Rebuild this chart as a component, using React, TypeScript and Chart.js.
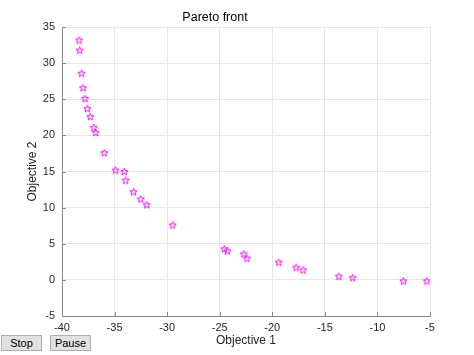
import React, { useEffect, useRef } from "react";
import { Chart, registerables } from "chart.js";

Chart.register(...registerables);

const objective1: number[] = [-38.38, -38.32, -38.13, -38.0, -37.81, -37.59, -37.31, -36.98, -36.79, -35.98, -34.9, -34.07, -33.94, -33.2, -32.5, -31.94, -29.47, -24.56, -24.27, -22.71, -22.4, -19.38, -17.73, -17.07, -13.67, -12.35, -7.53, -5.3];
const objective2: number[] = [33.2, 31.8, 28.6, 26.6, 25.1, 23.7, 22.6, 21.1, 20.4, 17.6, 15.2, 15.0, 13.8, 12.2, 11.2, 10.4, 7.6, 4.3, 4.0, 3.6, 3.0, 2.45, 1.75, 1.38, 0.51, 0.32, -0.14, -0.14];
const xTicks: number[] = [-40, -35, -30, -25, -20, -15, -10, -5];
const yTicks: number[] = [-5, 0, 5, 10, 15, 20, 25, 30, 35];

const FONT = "'Liberation Sans', Arial, Helvetica, sans-serif";
const TEXT = "#262626";
const GRID = "#e6e6e6";
const AXIS = "#8a8a8a";

function makePentagram(): HTMLCanvasElement {
  const c = document.createElement("canvas");
  const s = 9;
  c.width = s;
  c.height = s;
  const ctx = c.getContext("2d")!;
  const cx = s / 2, cy = s / 2 + 0.4;
  const R = 3.8, r = 1.6;
  ctx.beginPath();
  for (let i = 0; i < 10; i++) {
    const rad = i % 2 === 0 ? R : r;
    const a = -Math.PI / 2 + (i * Math.PI) / 5;
    const px = cx + rad * Math.cos(a);
    const py = cy + rad * Math.sin(a);
    if (i === 0) ctx.moveTo(px, py);
    else ctx.lineTo(px, py);
  }
  ctx.closePath();
  ctx.strokeStyle = "#ff00ff";
  ctx.lineWidth = 1;
  ctx.stroke();
  return c;
}

const innerTicks = {
  id: "innerTicks",
  afterDraw(chart: any) {
    const { ctx, chartArea, scales } = chart;
    ctx.save();
    ctx.strokeStyle = AXIS;
    ctx.lineWidth = 1;
    ctx.beginPath();
    for (const v of yTicks) {
      const y = Math.round(scales.y.getPixelForValue(v)) + 0.5;
      ctx.moveTo(chartArea.left, y);
      ctx.lineTo(chartArea.left + 4, y);
    }
    for (const v of xTicks) {
      const x = Math.round(scales.x.getPixelForValue(v)) + 0.5;
      ctx.moveTo(x, chartArea.bottom);
      ctx.lineTo(x, chartArea.bottom - 4);
    }
    ctx.stroke();
    ctx.restore();
  },
};

export default function App() {
  const ref = useRef<HTMLCanvasElement | null>(null);

  useEffect(() => {
    if (!ref.current) return;
    const star = makePentagram();
    const chart = new Chart(ref.current, {
      type: "scatter",
      data: {
        datasets: [
          {
            data: objective1.map((x, i) => ({ x, y: objective2[i] })),
            pointStyle: star as any,
            borderColor: "#ff00ff",
            backgroundColor: "#ff00ff",
          },
        ],
      },
      options: {
        responsive: false,
        animation: false,
        events: [],
        layout: { padding: { left: 0, right: 44, top: 0, bottom: 0 } },
        plugins: {
          legend: { display: false },
          tooltip: { enabled: false },
          title: {
            display: true,
            text: "Pareto front",
            color: "#000000",
            font: { family: FONT, size: 12.5, weight: "normal" as any },
            padding: { top: 10, bottom: 2 },
          },
        },
        scales: {
          x: {
            type: "linear",
            min: -40,
            max: -5,
            afterBuildTicks: (scale: any) => {
              scale.ticks = xTicks.map((v) => ({ value: v }));
            },
            afterFit: (scale: any) => {
              scale.height = 39;
            },
            ticks: {
              color: TEXT,
              font: { family: FONT, size: 11 },
              padding: 5,
              maxRotation: 0,
              callback: (v: any) => String(v),
            },
            grid: { color: GRID, drawTicks: false },
            border: { color: AXIS, width: 1 },
            title: {
              display: true,
              text: "Objective 1",
              color: TEXT,
              font: { family: FONT, size: 12 },
              padding: { top: 0, bottom: 6.8 },
            },
          },
          y: {
            type: "linear",
            min: -5,
            max: 35,
            afterBuildTicks: (scale: any) => {
              scale.ticks = yTicks.map((v) => ({ value: v }));
            },
            afterFit: (scale: any) => {
              scale.width = 62;
            },
            ticks: {
              color: TEXT,
              font: { family: FONT, size: 11 },
              padding: 7,
              callback: (v: any) => String(v),
            },
            grid: { color: GRID, drawTicks: false },
            border: { color: AXIS, width: 1 },
            title: {
              display: true,
              text: "Objective 2",
              color: TEXT,
              font: { family: FONT, size: 12 },
              padding: { top: 25.8, bottom: 0 },
            },
          },
        },
      },
      plugins: [innerTicks],
    });
    return () => chart.destroy();
  }, []);

  const btn: React.CSSProperties = {
    position: "absolute",
    top: 335,
    height: 16,
    width: 41,
    padding: 0,
    margin: 0,
    fontFamily: FONT,
    fontSize: 11,
    color: "#000",
    background: "#e1e1e1",
    border: "1px solid #adadad",
    boxSizing: "border-box",
    lineHeight: "14px",
  };

  return (
    <div style={{ position: "fixed", left: 0, top: 0, width: 474, height: 355, background: "#fff", overflow: "hidden" }}>
      <canvas ref={ref} width={474} height={355} style={{ display: "block", width: 474, height: 355 }} />
      <button style={{ ...btn, left: 1 }}>Stop</button>
      <button style={{ ...btn, left: 50 }}>Pause</button>
    </div>
  );
}
